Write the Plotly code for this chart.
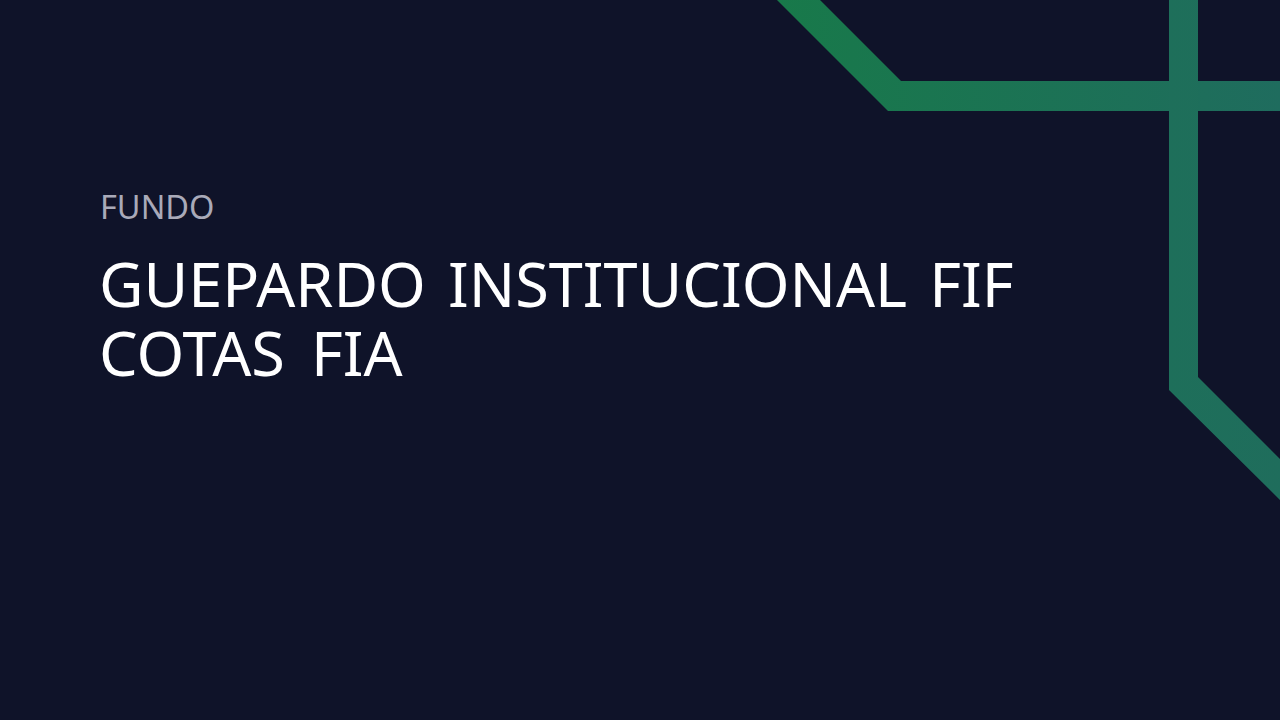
import plotly.graph_objects as go

W, H = 1280, 720
BG = "#0f1329"

# Decorative band outlines (pixel coords, y down)
band1_x = [777, 820, 901, 1280, 1280, 888, 777]
band1_y = [0, 0, 81, 81, 111, 111, 0]
band2_x = [1169, 1198, 1198, 1280, 1280, 1169, 1169]
band2_y = [0, 0, 377, 459, 500, 390, 0]
band1_colors = ["#18794a", "#1f6c5e"]
band2_colors = ["#1e6f5a", "#1f6d5c"]

subtitle = "FUNDO"
title_lines = ["GUEPARDO\u200a INSTITUCIONAL\u200a FIF", "COTAS\u2009 FIA"]

fig = go.Figure()
for bx, by, cols in [(band1_x, band1_y, band1_colors), (band2_x, band2_y, band2_colors)]:
    fig.add_trace(go.Scatter(
        x=bx, y=by, mode="lines", fill="toself",
        line=dict(width=0, color="rgba(0,0,0,0)"),
        fillgradient=dict(type="horizontal",
                          colorscale=[[0, cols[0]], [1, cols[1]]]),
        hoverinfo="skip", showlegend=False,
    ))

fig.add_annotation(x=98, y=206, text=subtitle, showarrow=False,
                   xanchor="left", yanchor="middle", height=34,
                   font=dict(family="Noto Sans", size=32.5, color="#a9aab9"))
fig.add_annotation(x=97, y=283, text=title_lines[0], showarrow=False,
                   xanchor="left", yanchor="middle", height=62,
                   font=dict(family="Noto Sans", size=61.2, color="#ffffff"))
fig.add_annotation(x=97, y=352, text=title_lines[1], showarrow=False,
                   xanchor="left", yanchor="middle", height=62,
                   font=dict(family="Noto Sans", size=61.2, color="#ffffff"))

fig.update_layout(
    width=W, height=H,
    margin=dict(l=0, r=0, t=0, b=0),
    paper_bgcolor=BG, plot_bgcolor=BG,
    xaxis=dict(range=[0, W], visible=False, fixedrange=True),
    yaxis=dict(range=[H, 0], visible=False, fixedrange=True),
)
fig.write_html("out.html", config={"displayModeBar": False},
               post_script="document.body.style.margin='0';document.body.style.overflow='hidden';")
